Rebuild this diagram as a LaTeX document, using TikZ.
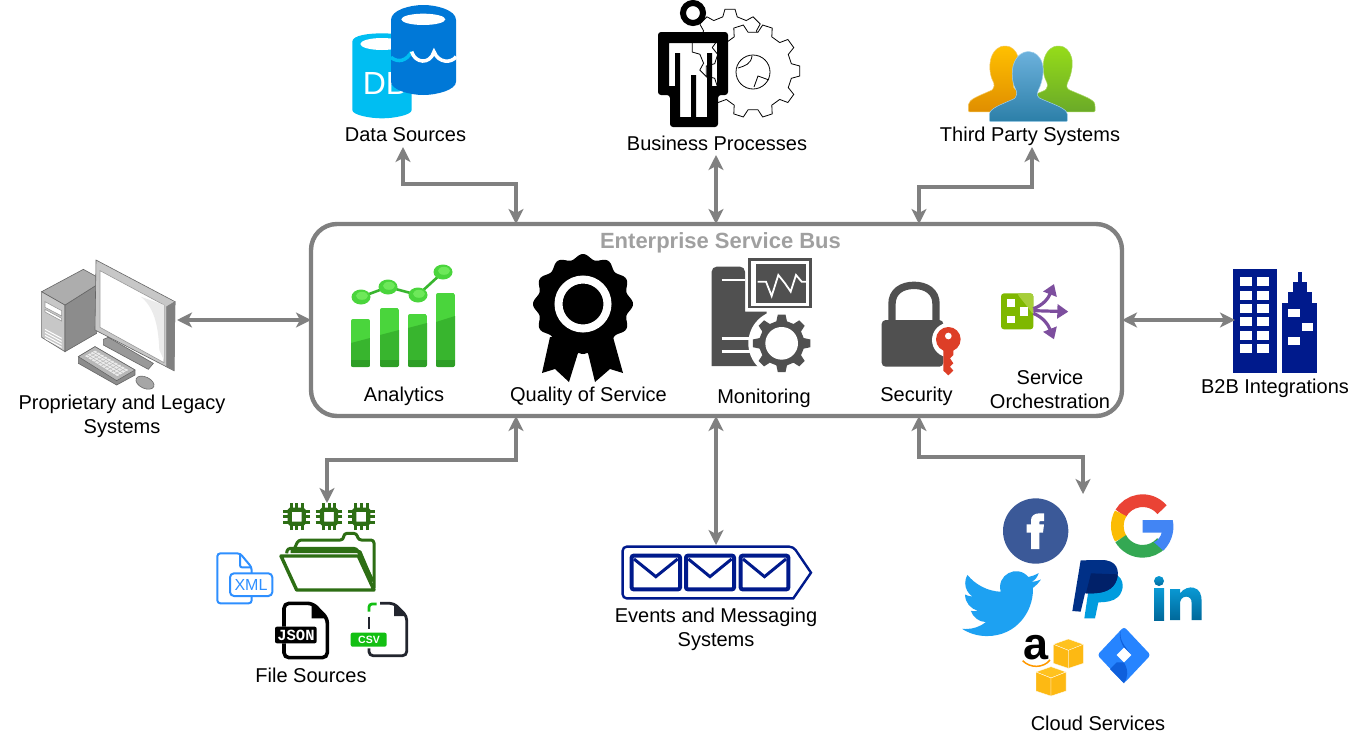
\documentclass[tikz,border=0pt]{standalone}
\usepackage{fontspec}
\setmainfont{Liberation Sans}
\newfontfamily\monofam{Liberation Mono}
\usetikzlibrary{arrows.meta,calc}
\definecolor{conngray}{HTML}{808080}
\definecolor{busttl}{HTML}{A0A0A0}
\definecolor{navyb}{HTML}{001A8C}
\definecolor{mon}{HTML}{505050}
\definecolor{chipg}{HTML}{2D6E14}
\definecolor{barlight}{HTML}{4AD53C}
\definecolor{barmid}{HTML}{38B52E}
\definecolor{bardark}{HTML}{2E9E26}
\definecolor{dothi}{HTML}{6EE85A}
\definecolor{cubeA}{HTML}{FFC21F}
\definecolor{cubeB}{HTML}{FDB913}
\definecolor{dbl}{HTML}{00BEF2}
\definecolor{dbd}{HTML}{0078D7}
\definecolor{orT}{HTML}{FFC000}
\definecolor{orB}{HTML}{E08E00}
\definecolor{orE}{HTML}{F5C860}
\definecolor{grT}{HTML}{96DC19}
\definecolor{grB}{HTML}{6AAA28}
\definecolor{grE}{HTML}{A8D860}
\definecolor{blT}{HTML}{6CB1DC}
\definecolor{blB}{HTML}{2C7FA8}
\definecolor{blE}{HTML}{A0D0EC}
\definecolor{keyred}{HTML}{DD3E27}
\definecolor{orchg}{HTML}{7FB800}
\definecolor{orchl}{HTML}{A6CE39}
\definecolor{orchp}{HTML}{7D4E9E}
\definecolor{xmlb}{HTML}{2E8FFF}
\definecolor{csvd}{HTML}{22252E}
\definecolor{csvg}{HTML}{13BF13}
\definecolor{fbb}{HTML}{3B5998}
\definecolor{gred}{HTML}{EA4335}
\definecolor{gyel}{HTML}{FBBC05}
\definecolor{ggrn}{HTML}{34A853}
\definecolor{gblu}{HTML}{4285F4}
\definecolor{ppl}{HTML}{009CDE}
\definecolor{ppd}{HTML}{003087}
\definecolor{ppm}{HTML}{012169}
\definecolor{liT}{HTML}{0A9BD6}
\definecolor{liB}{HTML}{00689A}
\definecolor{jib}{HTML}{2684FF}
\definecolor{jid}{HTML}{0F60DC}
\definecolor{amzo}{HTML}{FF9900}
\definecolor{twb}{HTML}{1DA1F2}
\newcommand\myfs[1]{\fontsize{#1}{#1}\selectfont}
\newcommand\mygear[6]{%
  \pgfmathsetmacro\pp{360/#5}
  \pgfmathtruncatemacro\nn{#5-1}
  \begin{scope}[shift={(#1,#2)}]
  \draw[#6] ({-0.3*\pp}:#4)
    \foreach \k in {0,...,\nn} {
      -- ({(\k-0.3)*\pp}:#4) -- ({(\k-0.17)*\pp}:#3) -- ({(\k+0.17)*\pp}:#3) -- ({(\k+0.3)*\pp}:#4)
    } -- cycle;
  \end{scope}}
\newcommand\abar[5]{%
  \begin{scope}
  \clip[rounded corners=2pt] (#1,#3) rectangle (#2,367);
  \fill[barlight] (#1,#3) rectangle (#2,367);
  \fill[barmid] (#1,#4) -- (#2,#5) -- (#2,367) -- (#1,367) -- cycle;
  \fill[bardark] (#1,360) rectangle (#2,367);
  \end{scope}}
\newcommand\abud[6]{%
  \begin{scope}[shift={(#1,#2)},scale=#3]
  \shade[top color=#4,bottom color=#5,draw=#6,line width=.5pt,rounded corners=1pt]
   (-117,210) -- (-117,190) .. controls (-115,170) and (-85,160) .. (-40,140)
   .. controls (-35,130) and (-33,125) .. (-37,115) .. controls (-50,90) and (-50,60) .. (-45,40)
   .. controls (-35,10) and (-15,0) .. (0,0) .. controls (20,0) and (37,15) .. (43,40)
   .. controls (47,65) and (40,95) .. (30,115) .. controls (25,130) and (27,135) .. (35,140)
   .. controls (80,160) and (115,170) .. (117,190) -- (117,210) -- cycle;
  \end{scope}}
\newcommand\achip[2]{%
  \draw[chipg,line width=4.2pt,rounded corners=1pt] (#1-21,#2-21) rectangle (#1+21,#2+21);
  \foreach \o in {-17,0,17} {
    \draw[chipg,line width=3pt] ({#1+\o},#2-40) -- ({#1+\o},#2-24);
    \draw[chipg,line width=3pt] ({#1+\o},#2+40) -- ({#1+\o},#2+24);
    \draw[chipg,line width=3pt] (#1-40,{#2+\o}) -- (#1-24,{#2+\o});
    \draw[chipg,line width=3pt] (#1+40,{#2+\o}) -- (#1+24,{#2+\o});
  }}
\newcommand\acube[2]{%
  \begin{scope}[shift={(#1,#2)},draw=white,line width=.3pt]
  \filldraw[fill=cubeA] (0,-44) -- (45,-28) -- (0,-10) -- (-45,-28) -- cycle;
  \filldraw[fill=cubeB] (-45,-28) -- (0,-10) -- (0,44) -- (-45,29) -- cycle;
  \filldraw[fill=cubeB] (45,-28) -- (0,-10) -- (0,44) -- (45,29) -- cycle;
  \end{scope}}
\tikzset{
  conn/.style={draw=conngray,line width=3.2pt,
    {Stealth[length=15pt,width=15pt,inset=4pt]}-{Stealth[length=15pt,width=15pt,inset=4pt]}},
  lbl/.style={font=\myfs{20},align=center,inner sep=0pt,text=black},
  zoomed/.style={shift={(#1)},scale=0.33333},
}
\begin{document}
\begin{tikzpicture}[x=1pt,y=-1pt]
\useasboundingbox (0,0) rectangle (1371,734);
\fill[white] (0,0) rectangle (1371,734);

% ---------- bus
\node[draw=conngray,line width=4.4pt,rounded corners=26pt,minimum width=811pt,minimum height=192pt,outer sep=0pt,inner sep=0pt] (bus) at (716.5,320) {};
\node[font=\myfs{22}\bfseries,text=busttl,inner sep=0pt] (bustitle) at (720.5,243) {Enterprise Service Bus};

% ---------- data sources icon
\begin{scope}[zoomed={330,0}]
\fill[dbl] (67,125) -- (67,330) .. controls (67,345) and (120,355) .. (156,355) .. controls (192,355) and (245,345) .. (245,330) -- (245,125) .. controls (245,105) and (192,100) .. (156,100) .. controls (120,100) and (67,105) .. (67,125) -- cycle;
\fill[white] (156,132) ellipse [x radius=65,y radius=18];
\node[font=\myfs{32},text=white,inner sep=0pt] (dbtext) at (165,250) {DB};
\fill[dbd] (183,60) -- (183,245) .. controls (183,270) and (240,285) .. (280,285) .. controls (320,285) and (378,270) .. (378,245) -- (378,60) .. controls (378,30) and (320,15) .. (280,15) .. controls (240,15) and (183,30) .. (183,60) -- cycle;
\fill[white] (280,58) ellipse [x radius=66,y radius=17];
\draw[dbl,line width=3.5pt] (183,172) .. controls (205,190) and (230,182) .. (245,155);
\draw[white,line width=3.5pt] (245,155) .. controls (255,190) and (300,195) .. (312,155) .. controls (325,190) and (365,190) .. (378,170);
\end{scope}
\node[lbl] (ds) at (405.5,134.5) {Data Sources};

% ---------- business processes icon
\mygear{730}{47}{38}{31}{8}{fill=white,draw=black,line width=.8pt}
\mygear{753}{71}{47}{39}{10}{fill=white,draw=black,line width=.8pt}
\draw[black,line width=.8pt] (753,72) circle (17);
\draw[black,line width=.8pt] (754,87) -- (758,76) -- (769,80);
\draw[black,line width=.8pt] (738,68) .. controls (745,66) and (751,64) .. (752,56);
\draw[black,line width=6pt] (693,13) circle (10);
\fill[black,even odd rule,rounded corners=3pt] (658,32) -- (728,32) -- (728,95) -- (718,95) -- (718,127) -- (670,127) -- (670,95) -- (658,95) -- cycle
  [sharp corners] (669,43) -- (717,43) -- (717,86) -- (712,86) -- (712,53) -- (707,53) -- (707,117) -- (696,117) -- (696,75) -- (691,75) -- (691,117) -- (680,117) -- (680,53) -- (675,53) -- (675,86) -- (669,86) -- cycle;
\node[lbl] (bp) at (717,143) {Business Processes};

% ---------- third party icon
\begin{scope}[zoomed={960,40}]
\abud{135}{18}{0.94}{orT}{orB}{orE}
\abud{295}{18}{0.94}{grT}{grB}{grE}
\abud{205}{35}{1}{blT}{blB}{blE}
\end{scope}
\node[lbl] (tp) at (1030,136) {Third Party Systems};

% ---------- computer
\begin{scope}[zoomed={20,250},draw=black!60,line width=.6pt]
\filldraw[fill=black!22] (65,125) -- (135,165) -- (135,305) -- (65,262) -- cycle;
\filldraw[fill=black!45] (135,165) -- (230,105) -- (230,250) -- (135,305) -- cycle;
\filldraw[fill=black!32] (65,125) -- (190,58) -- (230,80) -- (230,105) -- (135,165) -- cycle;
\filldraw[fill=white,draw=black!40] (75,155) -- (125,182) -- (125,198) -- (75,172) -- cycle;
\filldraw[fill=white,draw=black!40] (75,178) -- (125,205) -- (125,213) -- (75,186) -- cycle;
\foreach \o in {0,9,18,27} {\draw[white,line width=1pt] (75,{238+\o}) -- (125,{265+\o});}
\filldraw[fill=black!40] (250,268) -- (265,262) -- (400,340) -- (385,358) -- (250,285) -- cycle;
\filldraw[fill=black!22] (228,30) -- (465,155) -- (462,362) -- (225,240) -- cycle;
\filldraw[fill=black!50,draw=black!50] (465,155) -- (440,170) -- (440,350) -- (462,362) -- cycle;
\filldraw[fill=white,draw=black!40] (240,62) -- (432,165) -- (432,338) -- (240,232) -- cycle;
\fill[black!8] (362,140) .. controls (400,170) and (415,220) .. (418,300) -- (432,330) -- (432,165) -- cycle;
\filldraw[fill=black!45] (175,320) -- (175,340) -- (290,405) -- (345,375) -- (345,360) -- (225,290) -- cycle;
\filldraw[fill=black!28] (175,320) -- (225,290) -- (345,360) -- (290,392) -- cycle;
\filldraw[fill=black!8,draw=black!30] (192,318) -- (225,300) -- (328,360) -- (292,380) -- cycle;
\foreach \t in {0.25,0.5,0.75} {\draw[black!30,line width=.4pt] ($(192,318)!\t!(225,300)$) -- ($(292,380)!\t!(328,360)$);}
\foreach \t in {0.1,0.2,0.3,0.4,0.5,0.6,0.7,0.8,0.9} {\draw[black!30,line width=.4pt] ($(192,318)!\t!(292,380)$) -- ($(225,300)!\t!(328,360)$);}
\filldraw[fill=black!35,rotate around={-25:(375,398)}] (375,398) ellipse [x radius=29,y radius=17];
\end{scope}
\node[lbl] (pl) at (122,416) {Proprietary and Legacy\\[4pt]Systems};

% ---------- buildings
\fill[navyb] (1233,269) rectangle (1277,373);
\foreach \r in {277,291,304,317,331,344} {
  \fill[white] (1240,\r) rectangle (1252,{\r+9});
  \fill[white] (1257,\r) rectangle (1269,{\r+9});
}
\fill[navyb] (1282,303) rectangle (1317,373);
\fill[navyb] (1288,292) rectangle (1312,304);
\fill[navyb] (1293,282) rectangle (1307,293);
\fill[navyb] (1298,272) rectangle (1302,283);
\fill[white] (1288,309) rectangle (1300,317);
\fill[white] (1302,323) rectangle (1313,331);
\fill[white] (1288,337) rectangle (1300,345);
\node[lbl] (b2b) at (1275,388) {B2B Integrations};

% ---------- analytics
\abar{351}{370}{319}{343}{338}
\abar{380}{399}{308}{335}{330}
\abar{408}{427}{314}{328}{323}
\abar{436}{455}{293}{322}{316}
\draw[barmid,line width=2.6pt] (361,297) -- (388,287) -- (418,295) -- (443,272);
\foreach \cx/\cy in {361/297,388/287,418/295,443/272} {
  \fill[barlight] (\cx,\cy) ellipse [x radius=9.5,y radius=7.5];
  \fill[dothi] ({\cx+1},{\cy-1.2}) ellipse [x radius=6,y radius=4];
}
\node[lbl] (an) at (404,396.5) {Analytics};

% ---------- quality of service
\fill[black] plot[domain=0:360,samples=181,smooth] ({583+(47.5+2.5*cos(12*\x))*cos(\x)},{304+(47.5+2.5*cos(12*\x))*sin(\x)}) -- cycle;
\fill[black] (550,337) -- (542,373) -- (555,369) -- (569,382) -- (578,353) -- (588,353) -- (595,382) -- (610,369) -- (623,373) -- (613,337) -- cycle;
\draw[white,line width=8pt] (583,304) circle (24.5);
\node[lbl] (qs) at (588.5,396.5) {Quality of Service};

% ---------- monitoring
\begin{scope}[zoomed={330,240}]
\fill[mon,rounded corners=5pt] (1145,378) -- (1145,80) -- (1245,80) -- (1245,150) [sharp corners] -- (1245,215) -- (1310,215) -- (1310,378) -- cycle;
\draw[white,line width=2.6pt] (1175,120) -- (1245,120);
\filldraw[fill=white,draw=mon,line width=2.4pt] (1258,58) rectangle (1442,201);
\fill[mon] (1278,72) rectangle (1428,188);
\draw[white,line width=1.8pt] (1283,125) -- (1308,125) -- (1325,168) -- (1345,105) -- (1365,130) -- (1382,155) -- (1398,105) -- (1415,125) -- (1428,125);
\fill[white] (1355,310) circle (100);
\draw[white,line width=2.6pt] (1175,295) -- (1275,295) (1175,335) -- (1275,335);
\mygear{1355}{310}{87}{68}{8}{fill=mon,draw=none}
\fill[white] (1355,310) circle (49);
\end{scope}
\node[lbl] (mo) at (764,398.5) {Monitoring};

% ---------- security, orchestration
\begin{scope}[zoomed={860,260}]
\draw[mon,line width=7.4pt] (96,190) -- (96,131) .. controls (96,95) and (125,76) .. (162,76) .. controls (199,76) and (228,95) .. (228,131) -- (228,190);
\fill[mon,rounded corners=4pt] (65,180) rectangle (250,320);
\fill[white] (268,240) circle (52);
\fill[white] (240,320) rectangle (300,350);
\fill[keyred] (265,238) circle (37);
\fill[white] (265,228) circle (10);
\fill[keyred] (250,265) -- (280,265) -- (280,285) -- (270,295) -- (280,310) -- (270,320) -- (280,332) -- (265,346) -- (250,332) -- cycle;
\fill[orchg,rounded corners=3pt] (423,100) rectangle (520,208);
\fill[orchl,rounded corners=3pt] (470,100) -- (520,100) -- (520,165) -- (510,150) -- cycle;
\fill[white] (440,118) rectangle (465,142);
\fill[white] (480,142) rectangle (505,167);
\fill[white] (440,167) rectangle (465,190);
\draw[orchp,line width=3.2pt,-{Triangle[length=11pt,width=14pt]}] (520,152) -- (625,155);
\draw[orchp,line width=3.2pt,-{Triangle[length=11pt,width=14pt]}] (520,146) .. controls (550,135) and (565,115) .. (582,72);
\draw[orchp,line width=3.2pt,-{Triangle[length=11pt,width=14pt]}] (520,160) .. controls (550,172) and (565,195) .. (582,238);
\end{scope}
\node[lbl] (se) at (916.5,396.5) {Security};
\node[lbl] (so) at (1050,389) {Service\\[4pt]Orchestration};

% ---------- file sources
\begin{scope}[zoomed={200,490}]
\achip{290}{80}\achip{387}{80}\achip{484}{80}
\draw[chipg,line width=3pt,line join=round,rounded corners=3pt] (285,172) -- (295,150) -- (430,150) -- (432,130) -- (470,130) -- (475,150) -- (522,150) -- (522,295);
\draw[chipg,line width=3pt,line join=round,rounded corners=3pt] (260,190) -- (262,175) -- (470,175) -- (515,265);
\draw[chipg,line width=3pt,line join=round] (272,185) -- (480,185) -- (518,275);
\filldraw[fill=white,draw=chipg,line width=3.4pt,line join=round] (243,198) -- (475,198) -- (522,300) -- (290,300) -- cycle;
% xml
\draw[xmlb,line width=2pt,rounded corners=3pt] (155,250) -- (155,232) -- (120,190) -- (52,190) -- (52,340) -- (155,340) -- (155,318);
\draw[xmlb,line width=2pt,rounded corners=2pt] (120,190) -- (120,232) -- (155,232);
\filldraw[fill=white,draw=xmlb,line width=2pt,rounded corners=4pt] (90,250) rectangle (217,318);
\node[font=\myfs{16},text=xmlb,inner sep=0pt] (xml) at (153,286) {XML};
% json
\draw[black,line width=3.6pt,rounded corners=5pt] (252,410) -- (252,340) -- (338,340) -- (382,385) -- (382,503) -- (252,503) -- (252,460);
\fill[black] (335,340) -- (382,385) -- (335,385) -- cycle;
\fill[black,rounded corners=2pt] (225,410) rectangle (350,460);
\node[font=\monofam\bfseries\myfs{15.5},text=white,inner sep=0pt] (json) at (288,435) {JSON};
% csv
\draw[csvd,line width=2.8pt,rounded corners=4pt] (540,340) -- (582,340) -- (620,378) -- (620,497) -- (507,497) -- (507,475);
\fill[csvd] (582,340) -- (620,378) -- (582,378) -- cycle;
\draw[csvd,line width=2.8pt] (507,380) -- (507,418);
\draw[csvg,line width=2.8pt,rounded corners=3pt] (507,365) -- (507,342) -- (530,342);
\fill[csvg,rounded corners=2pt] (452,428) rectangle (560,470);
\node[font=\bfseries\myfs{10.5},text=white,inner sep=0pt] (csv) at (507,449) {CSV};
\end{scope}
\node[lbl] (fs) at (311,675) {File Sources};

% ---------- messaging
\begin{scope}[zoomed={610,535}]
\draw[navyb,line width=2.4pt,rounded corners=4pt] (38,35) -- (550,35) [sharp corners] -- (603,113) -- (550,190) [rounded corners=4pt] -- (38,190) -- cycle;
\foreach \a/\b in {65/210,228/372,392/535} {
  \draw[navyb,line width=4pt,rounded corners=2pt] (\a,62) rectangle (\b,163);
  \draw[navyb,line width=3pt] ({\a+7},72) -- ({(\a+\b)/2},125) -- ({\b-7},72);
}
\end{scope}
\node[lbl] (em) at (716,629) {Events and Messaging\\[4pt]Systems};

% ---------- cloud
\begin{scope}[zoomed={950,485}]
\fill[fbb] (257,138) circle (98);
\fill[white] (243,192) -- (243,143) -- (230,143) -- (230,118) -- (243,118) -- (243,105) .. controls (243,92) and (255,85) .. (268,85) -- (282,85) -- (282,108) -- (272,108) .. controls (268,108) and (268,110) .. (268,113) -- (268,118) -- (282,118) -- (279,143) -- (268,143) -- (268,192) -- cycle;
% google
\draw[gred,line width=12.7pt] (578,123) ++(-40:76) arc[start angle=-40,end angle=-150,radius=76];
\draw[gyel,line width=12.7pt] (578,123) ++(-150:76) arc[start angle=-150,end angle=-210,radius=76];
\draw[ggrn,line width=12.7pt] (578,123) ++(-210:76) arc[start angle=-210,end angle=-318,radius=76];
\fill[gblu] (578,105) -- (668,105) .. controls (673,125) and (672,165) .. (640,197) -- (612,172) .. controls (625,165) and (632,155) .. (635,143) -- (578,143) -- cycle;
% paypal
\fill[ppl] (423,265) -- (490,265) .. controls (530,280) and (520,320) .. (505,335) .. controls (490,350) and (465,352) .. (445,352) -- (435,400) -- (403,400) -- cycle;
\fill[ppd] (392,226) -- (455,225) .. controls (500,225) and (510,255) .. (500,285) .. controls (490,315) and (460,325) .. (425,325) -- (405,325) -- (392,380) -- (367,378) -- cycle;
\fill[ppm] (423,265) -- (503,268) .. controls (503,275) and (502,280) .. (500,285) .. controls (490,315) and (460,325) .. (425,325) -- (408,325) -- cycle;
% linkedin
\shade[top color=liT,bottom color=liB] (627,288) circle (15);
\shade[top color=liT,bottom color=liB] (612,310) rectangle (642,405);
\shade[top color=liT,bottom color=liB] (660,405) -- (660,312) -- (690,312) -- (690,325) .. controls (700,310) and (720,305) .. (730,308) .. controls (750,312) and (755,330) .. (755,350) -- (755,405) -- (725,405) -- (725,355) .. controls (725,340) and (718,335) .. (708,335) .. controls (697,335) and (690,345) .. (690,355) -- (690,405) -- cycle;
% jira
\fill[jib,rounded corners=3pt] (522,425) -- (602,510) -- (522,595) -- (442,510) -- cycle;
\fill[jid] (512,436) .. controls (508,465) and (520,478) .. (544,510) -- (522,488) .. controls (515,475) and (505,460) .. (512,436) -- cycle;
\fill[jid] (500,532) -- (522,532) .. controls (535,555) and (535,575) .. (522,595) -- (480,552) -- cycle;
\fill[white] (522,488) -- (544,510) -- (522,532) -- (500,510) -- cycle;
% amazon
\acube{355}{506}\acube{303}{589}
\node[font=\bfseries\myfs{45},text=black,inner sep=0pt] (amz) at (258,488) {a};
\draw[amzo,line width=1.5pt] (218,527) .. controls (240,550) and (280,550) .. (300,525);
\end{scope}
\begin{scope}[shift={(962,564.5)},scale=3.29]
\fill[twb] (23.953,4.57) .. controls (23,4.95) and (22.1,5.23) .. (21.128,5.345) .. controls (22.3,4.65) and (23,3.7) .. (23.291,2.622) .. controls (22.34,3.177) and (21.286,3.581) .. (20.164,3.806) .. controls (16.75,-0.25) and (10.32,3.2) .. (11.78,8.288) .. controls (7.69,8.095) and (4.067,6.13) .. (1.64,3.162) .. controls (1.22,3.9) and (0.974,4.75) .. (0.974,5.637) .. controls (0.974,7.347) and (1.844,8.85) .. (3.162,9.733) .. controls (2.36,9.7) and (1.6,9.5) .. (0.934,9.117) -- (0.934,9.177) .. controls (0.934,11.55) and (2.6,13.55) .. (4.88,14.004) .. controls (4.2,14.2) and (3.4,14.25) .. (2.668,14.089) .. controls (3.35,16.1) and (5.2,17.45) .. (7.272,17.506) .. controls (5.55,18.85) and (3.45,19.611) .. (1.17,19.611) .. controls (0.78,19.611) and (0.391,19.588) .. (0,19.544) .. controls (2.2,20.95) and (4.8,21.753) .. (7.557,21.753) .. controls (16.61,21.753) and (21.555,14.257) .. (21.555,7.768) .. controls (21.555,7.558) and (21.555,7.348) .. (21.54,7.138) .. controls (22.5,6.45) and (23.3,5.55) .. (24,4.59) -- cycle;
\end{scope}
\node[lbl] (cs) at (1098,723) {Cloud Services};

% ---------- connector ends at the icons
\coordinate (dsport) at (403,147);
\coordinate (bpport) at (716,155);
\coordinate (tpport) at (1032,147);
\coordinate (plport) at (177,320);
\coordinate (b2bport) at (1235,320);
\coordinate (fsport) at (327,503);
\coordinate (emport) at (716,545);
\coordinate (csport) at (1083,494);

% ---------- connectors
\draw[conn] (dsport) -- ++(0,37) -| ([xshift=-200.5pt]bus.north);
\draw[conn] (bpport) -- (bpport |- bus.north);
\draw[conn] (tpport) -- ++(0,40) -| ([xshift=202.5pt]bus.north);
\draw[conn] (plport) -- (bus.west);
\draw[conn] (b2bport) -- (bus.east);
\draw[conn] ([xshift=-200.5pt]bus.south) |- (327,460) -- (fsport);
\draw[conn] (emport) -- (emport |- bus.south);
\draw[conn] ([xshift=202.5pt]bus.south) |- (1083,457) -- (csport);
\end{tikzpicture}
\end{document}
